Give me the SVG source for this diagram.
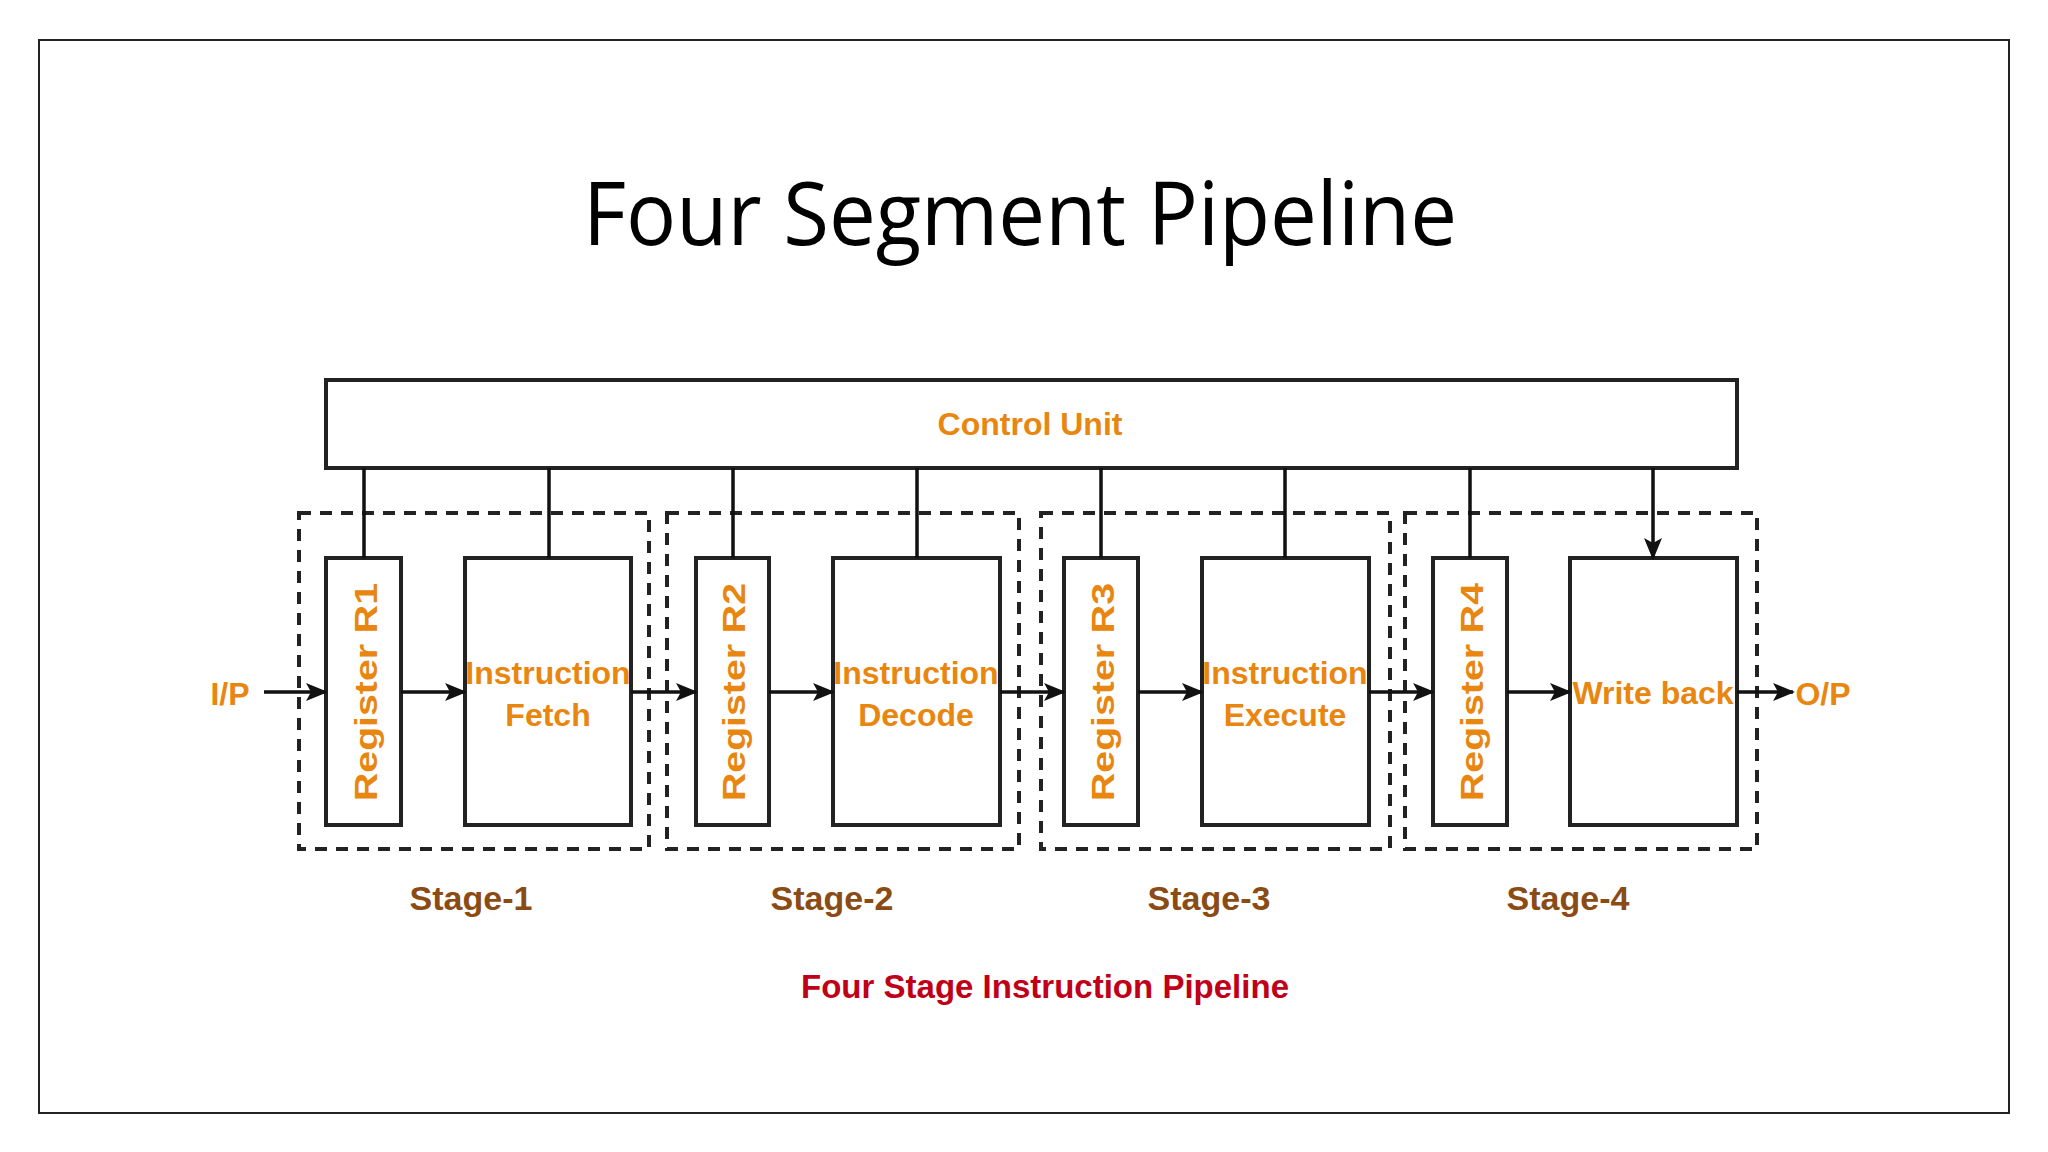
<svg xmlns="http://www.w3.org/2000/svg" width="2048" height="1152" viewBox="0 0 2048 1152">
<style>
.box{fill:#fff;stroke:#222;stroke-width:4}
.dash{fill:none;stroke:#222;stroke-width:4;stroke-dasharray:12 9}
.ln{stroke:#111;stroke-width:3.5;fill:none}
.or{fill:#E8860F;font-family:"Liberation Sans",Arial,sans-serif;font-weight:bold;font-size:32px;text-anchor:middle}
.st{fill:#8A4B14;font-family:"Liberation Sans",Arial,sans-serif;font-weight:bold;font-size:34px;text-anchor:middle}
</style>
<defs><marker id="a" markerWidth="10" markerHeight="10" refX="9" refY="5" orient="auto" markerUnits="userSpaceOnUse" viewBox="0 0 10 10"><path d="M0,0 L10,5 L0,10 L3,5 z" fill="#111"/></marker>
<marker id="b" markerWidth="22" markerHeight="22" refX="20" refY="11" orient="auto" markerUnits="userSpaceOnUse" viewBox="0 0 22 22"><path d="M0,2 L22,11 L0,20 L5,11 z" fill="#111"/></marker></defs>
<rect width="2048" height="1152" fill="#fff"/>
<rect x="39" y="40" width="1970" height="1073" fill="none" stroke="#222" stroke-width="2"/>
<text x="1020" y="245" font-family="'Open Sans',sans-serif" font-size="88" text-anchor="middle" fill="#000" textLength="874" lengthAdjust="spacingAndGlyphs">Four Segment Pipeline</text>
<g id="stages">
<rect class="dash" x="299" y="513" width="350" height="336"/>
<rect class="dash" x="667" y="513" width="352" height="336"/>
<rect class="dash" x="1041" y="513" width="349" height="336"/>
<rect class="dash" x="1405" y="513" width="352" height="336"/>
</g>
<g id="control"><rect class="box" x="326" y="380" width="1411" height="88"/><text class="or" x="1030" y="435">Control Unit</text></g>
<g id="r1"><rect class="box" x="326" y="558" width="75" height="267"/><text class="or" transform="translate(377,692) rotate(-90)" textLength="218" lengthAdjust="spacingAndGlyphs">Register R1</text></g>
<g id="r2"><rect class="box" x="696" y="558" width="73" height="267"/><text class="or" transform="translate(745,692) rotate(-90)" textLength="218" lengthAdjust="spacingAndGlyphs">Register R2</text></g>
<g id="r3"><rect class="box" x="1064" y="558" width="74" height="267"/><text class="or" transform="translate(1114,692) rotate(-90)" textLength="218" lengthAdjust="spacingAndGlyphs">Register R3</text></g>
<g id="r4"><rect class="box" x="1433" y="558" width="74" height="267"/><text class="or" transform="translate(1483,692) rotate(-90)" textLength="218" lengthAdjust="spacingAndGlyphs">Register R4</text></g>
<g id="if"><rect class="box" x="465" y="558" width="166" height="267"/><text class="or" x="548" y="684">Instruction</text><text class="or" x="548" y="726">Fetch</text></g>
<g id="id"><rect class="box" x="833" y="558" width="167" height="267"/><text class="or" x="916" y="684">Instruction</text><text class="or" x="916" y="726">Decode</text></g>
<g id="ie"><rect class="box" x="1202" y="558" width="167" height="267"/><text class="or" x="1285" y="684">Instruction</text><text class="or" x="1285" y="726">Execute</text></g>
<g id="wb"><rect class="box" x="1570" y="558" width="167" height="267"/><text class="or" x="1653" y="704">Write back</text></g>
<text class="or" x="230" y="705">I/P</text>
<text class="or" x="1823" y="705">O/P</text>
<g id="connectors">
<path class="ln" marker-end="url(#b)" d="M364 468V558M549 468V558M733 468V558M917 468V558M1101 468V558M1285 468V558M1470 468V558M1653 468V558"/>
<path class="ln" marker-end="url(#b)" d="M264 692H326"/>
<path class="ln" marker-end="url(#b)" d="M401 692H465"/>
<path class="ln" marker-end="url(#b)" d="M631 692H696"/>
<path class="ln" marker-end="url(#b)" d="M769 692H833"/>
<path class="ln" marker-end="url(#b)" d="M1000 692H1064"/>
<path class="ln" marker-end="url(#b)" d="M1138 692H1202"/>
<path class="ln" marker-end="url(#b)" d="M1369 692H1433"/>
<path class="ln" marker-end="url(#b)" d="M1507 692H1570"/>
<path class="ln" marker-end="url(#b)" d="M1737 692H1793"/>
</g>
<text class="st" x="471" y="910">Stage-1</text>
<text class="st" x="832" y="910">Stage-2</text>
<text class="st" x="1209" y="910">Stage-3</text>
<text class="st" x="1568" y="910">Stage-4</text>
<text x="1045" y="998" font-family="'Liberation Sans',Arial,sans-serif" font-weight="bold" font-size="34" fill="#C00018" text-anchor="middle" textLength="488" lengthAdjust="spacingAndGlyphs">Four Stage Instruction Pipeline</text>
</svg>
